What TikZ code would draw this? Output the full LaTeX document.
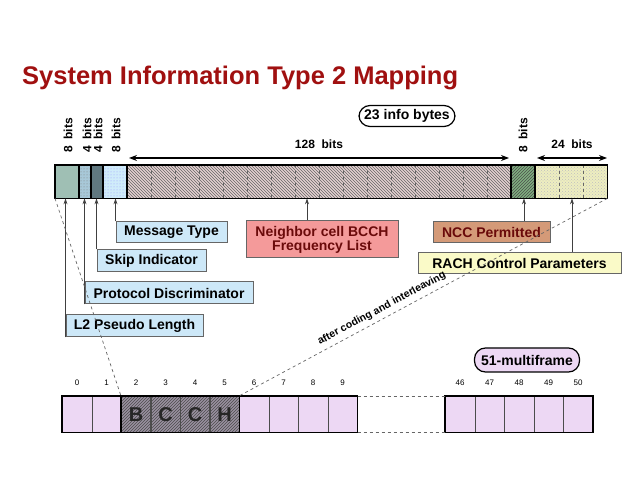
\documentclass[tikz,border=0pt]{standalone}
\usepackage{fontspec}
\setmainfont{Liberation Sans}
\usetikzlibrary{patterns,arrows.meta}
\definecolor{ttl}{HTML}{A01010}
\definecolor{bluebox}{HTML}{CDE8F8}
\definecolor{pinkbox}{HTML}{F49A9A}
\definecolor{nccbox}{HTML}{D49A78}
\definecolor{yelbox}{HTML}{FAFAC8}
\definecolor{lav}{HTML}{EDD8F4}
\definecolor{txtr}{HTML}{6A0A0A}
\definecolor{lenc}{HTML}{9FBFB4}
\definecolor{pdc}{HTML}{A8C8D8}
\definecolor{skc}{HTML}{607880}
\definecolor{mtc}{HTML}{D0ECFA}
\definecolor{bigc}{HTML}{E4D0D0}
\definecolor{grc}{HTML}{80B080}
\definecolor{ylc}{HTML}{EEEEC0}
\definecolor{bcc}{HTML}{9A90A0}
\tikzset{
  box/.style={draw=gray!80!black, line width=1pt, font=\bfseries\fontsize{14}{16}\selectfont, align=center, inner sep=0pt},
  bits/.style={rotate=90, font=\bfseries\fontsize{12}{14}\selectfont, anchor=west, inner sep=0pt},
  arr/.style={-{Stealth[length=6pt,width=4pt]}, line width=0.8pt, draw=black!75},
  dim/.style={{Stealth[length=8pt,width=6pt]}-{Stealth[length=8pt,width=6pt]}, line width=1.2pt},
  dsh/.style={dashed, draw=black!60, line width=0.7pt},
  cell/.style={draw=black!70, line width=0.6pt, fill=lav, minimum width=29.5pt, minimum height=36pt, inner sep=0pt, anchor=north west},
  num/.style={font=\fontsize{8}{9}\selectfont, inner sep=0pt},
  pill/.style={draw, line width=1.2pt, rounded corners=11pt, font=\bfseries\fontsize{14}{16}\selectfont, inner sep=0pt}
}
\begin{document}
\begin{tikzpicture}[x=1pt,y=-1pt]
\useasboundingbox[fill=white] (0,0) rectangle (638,478);
\node[anchor=base west, text=ttl, font=\bfseries\fontsize{25.5}{30}\selectfont, inner sep=0pt] (title) at (22,85) {System Information Type 2 Mapping};
\node[pill, minimum width=96pt, minimum height=21pt] (info) at (407,116) {23 info bytes};
% bar
\node[minimum width=552pt, minimum height=33pt, inner sep=0pt, anchor=north west] (bar) at (55,165) {};
\fill[lenc] (55,165) rectangle (79,198);
\fill[pdc] (79,165) rectangle (91,198);
\fill[pattern=dots, pattern color=black!50] (79,165) rectangle (91,198);
\fill[skc] (91,165) rectangle (103,198);
\fill[mtc] (103,165) rectangle (127,198);
\fill[pattern=dots, pattern color=blue!40] (103,165) rectangle (127,198);
\fill[bigc] (127,165) rectangle (511,198);
\fill[pattern=north west lines, pattern color=black!60] (127,165) rectangle (511,198);
\fill[grc] (511,165) rectangle (535,198);
\fill[pattern=north east lines, pattern color=black!70] (511,165) rectangle (535,198);
\fill[ylc] (535,165) rectangle (607,198);
\fill[pattern=crosshatch dots, pattern color=black!25] (535,165) rectangle (607,198);
\foreach \i in {1,...,15} \draw[dashed, black!60] (127+24*\i,165) -- (127+24*\i,198);
\foreach \i in {1,2} \draw[dashed, black!60] (535+24*\i,165) -- (535+24*\i,198);
\foreach \x in {79,91,103,127,511,535} \draw[line width=1.6pt] (\x,165) -- (\x,198);
\draw[line width=1.6pt] (bar.north west) rectangle (bar.south east);
% bit labels
\foreach \x/\t in {68/8, 87/4, 98/4, 116/8, 523/8} \node[bits] at (\x,153) {\t\ \ bits};
\coordinate (a1) at (129,158); \coordinate (a2) at (509,158);
\draw[dim] (a1) -- node[above=5pt, font=\bfseries\fontsize{12}{14}\selectfont] {128\ \ bits} (a2);
\coordinate (b1) at (537,158); \coordinate (b2) at (607,158);
\draw[dim] (b1) -- node[above=5pt, font=\bfseries\fontsize{12}{14}\selectfont] {24\ \ bits} (b2);
% boxes
\node[box, fill=bluebox, minimum width=111pt, minimum height=21pt] (mt) at (171.5,232.5) {Message Type};
\node[box, fill=bluebox, minimum width=109pt, minimum height=22pt] (sk) at (151.5,261) {Skip Indicator};
\node[box, fill=bluebox, minimum width=168pt, minimum height=22pt] (pd) at (169,293) {Protocol Discriminator};
\node[box, fill=bluebox, minimum width=137pt, minimum height=22pt] (l2) at (134.5,326) {L2 Pseudo Length};
\node[box, fill=pinkbox, text=txtr, minimum width=152pt, minimum height=37pt] (nb) at (322,239.5) {Neighbor cell BCCH\\[-2pt]Frequency List};
\node[box, fill=nccbox, text=txtr, minimum width=117pt, minimum height=21pt] (ncc) at (491.5,232.5) {NCC Permitted};
\node[box, fill=yelbox, minimum width=203pt, minimum height=21pt] (rach) at (519.5,263.5) {RACH Control Parameters};
% arrows
\draw[arr] (mt.north west) -- (mt.north west |- bar.south);
\draw[arr] (sk.north west) -- (sk.north west |- bar.south);
\draw[arr] (pd.south west) -- (pd.south west |- bar.south);
\draw[arr] (l2.south west) -- (l2.south west |- bar.south);
\draw[arr] ([xshift=-15pt]nb.north) -- ([xshift=-15pt]nb.north |- bar.south);
\draw[arr] ([xshift=32.5pt]ncc.north) -- ([xshift=32.5pt]ncc.north |- bar.south);
\draw[arr] ([xshift=52.5pt]rach.north) -- ([xshift=52.5pt]rach.north |- bar.south);
% frames
\foreach \i in {0,...,9} {
  \node[cell] (f\i) at (62+29.5*\i,396) {};
  \node[num] at ([yshift=13pt]f\i.north) {\i};
}
\foreach \i in {2,...,5} \fill[bcc] (f\i.north west) rectangle (f\i.south east);
\fill[pattern=north east lines, pattern color=black!70] (f2.north west) rectangle (f5.south east);
\foreach \i in {2,...,5} \draw[black!70, line width=0.6pt] (f\i.north west) rectangle (f\i.south east);
\foreach \i/\l in {2/B,3/C,4/C,5/H} \node[font=\bfseries\fontsize{20}{22}\selectfont, text=black!85, inner sep=0pt] at (f\i.center) {\l};
\foreach \i/\n in {0/46,1/47,2/48,3/49,4/50} {
  \node[cell] (g\i) at (445+29.5*\i,396) {};
  \node[num] at ([yshift=13pt]g\i.north) {\n};
}
\draw[line width=1.6pt] (f0.north west) rectangle (f9.south east);
\draw[line width=1.6pt] (f2.north west) rectangle (f5.south east);
\draw[line width=1.6pt] (g0.north west) rectangle (g4.south east);
\draw[dsh] (f9.north east) -- (g0.north west);
\draw[dsh] (f9.south east) -- (g0.south west);
\draw[dsh] (bar.south west) -- (f2.north west);
\draw[dsh] (bar.south east) -- node[pos=0.6, sloped, above=1pt, font=\bfseries\fontsize{10.5}{12}\selectfont] {after coding and interleaving} (f6.north west);
\node[pill, fill=lav, minimum width=105pt, minimum height=24pt] (mf) at (527,360) {51-multiframe};
\end{tikzpicture}
\end{document}
